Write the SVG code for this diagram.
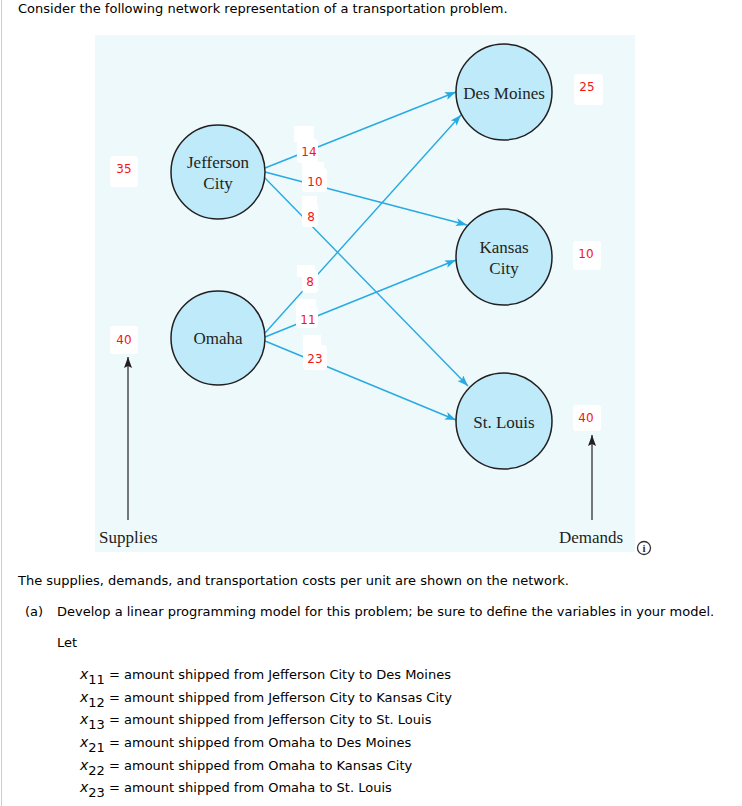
<svg xmlns="http://www.w3.org/2000/svg" width="742" height="806" viewBox="0 0 742 806">
<style>
.page{font-family:"DejaVu Sans",Verdana,sans-serif;font-size:13px;fill:#000}
.node{fill:#bfeaf9;stroke:#231f20;stroke-width:1.5}
.ntext{font-family:"Liberation Serif","Times New Roman",serif;font-size:17px;fill:#231f20;text-anchor:middle}
.edge{stroke:#27aae1;stroke-width:1.4;fill:none}
.lbox{fill:#fff}
.lab{font-family:"DejaVu Sans",Verdana,sans-serif;font-size:12px;fill:#f51414;text-anchor:middle}
.axis{stroke:#231f20;stroke-width:1.2}
.cap{font-family:"Liberation Serif","Times New Roman",serif;font-size:17px;fill:#231f20}
.var{font-family:"DejaVu Sans",Verdana,sans-serif;font-style:italic;font-size:14px}
</style>
<defs>
<marker id="ah" markerUnits="userSpaceOnUse" markerWidth="12" markerHeight="10" refX="11" refY="4" orient="auto">
<path d="M0,0 L11,4 L0,8 L2.5,4 Z" fill="#27aae1"/>
</marker>
<marker id="bh" markerUnits="userSpaceOnUse" markerWidth="12" markerHeight="10" refX="11" refY="4" orient="auto">
<path d="M0,0 L11,4 L0,8 L2,4 Z" fill="#231f20"/>
</marker>
</defs>
<rect width="742" height="806" fill="#fff"/>
<line x1="1.5" y1="0" x2="1.5" y2="806" stroke="#cccccc" stroke-width="1"/>
<text class="page" x="18" y="13">Consider the following network representation of a transportation problem.</text>
<rect x="95" y="35" width="540" height="517" fill="#eef9fc"/>

<g id="connectors">
<line class="edge" x1="265" y1="168" x2="456" y2="92" marker-end="url(#ah)"/>
<line class="edge" x1="265" y1="172" x2="467" y2="225" marker-end="url(#ah)"/>
<line class="edge" x1="264" y1="177" x2="468" y2="386" marker-end="url(#ah)"/>
<line class="edge" x1="265" y1="333" x2="461" y2="115" marker-end="url(#ah)"/>
<line class="edge" x1="265" y1="337" x2="456" y2="260" marker-end="url(#ah)"/>
<line class="edge" x1="265" y1="341" x2="456" y2="420" marker-end="url(#ah)"/>
<line class="axis" x1="128" y1="520" x2="128" y2="357" marker-end="url(#bh)"/>
<line class="axis" x1="592" y1="520" x2="592" y2="435" marker-end="url(#bh)"/>
</g>

<g id="cost-labels">
<g id="c14"><rect class="lbox" x="294" y="126" width="20" height="16"/><rect class="lbox" x="297" y="139" width="21" height="24" rx="4"/><text class="lab" x="309" y="156">14</text></g>
<g id="c10"><rect class="lbox" x="302" y="162" width="22" height="12"/><rect class="lbox" x="302" y="168" width="25" height="24" rx="4"/><text class="lab" x="315" y="186">10</text></g>
<g id="c8a"><rect class="lbox" x="302" y="196" width="15" height="14"/><rect class="lbox" x="302" y="204" width="16" height="23" rx="4"/><text class="lab" x="311" y="221">8</text></g>
<g id="c8b"><rect class="lbox" x="297" y="265" width="18" height="12"/><rect class="lbox" x="302" y="270" width="16" height="23" rx="4"/><text class="lab" x="310" y="286">8</text></g>
<g id="c11"><rect class="lbox" x="296" y="299" width="20" height="12"/><rect class="lbox" x="296" y="306" width="22" height="22" rx="4"/><text class="lab" x="308" y="324">11</text></g>
<g id="c23"><rect class="lbox" x="303" y="335" width="18" height="14"/><rect class="lbox" x="303" y="345" width="24" height="25" rx="4"/><text class="lab" x="315" y="363">23</text></g>
<g id="s35"><rect class="lbox" x="110" y="156" width="28" height="31" rx="3"/><text class="lab" x="124" y="173">35</text></g>
<g id="s40"><rect class="lbox" x="110" y="326" width="28" height="28" rx="3"/><text class="lab" x="124" y="344">40</text></g>
<g id="d25"><rect class="lbox" x="574" y="74" width="29" height="31" rx="3"/><text class="lab" x="587" y="91">25</text></g>
<g id="d10"><rect class="lbox" x="573" y="241" width="28" height="29" rx="3"/><text class="lab" x="586" y="258">10</text></g>
<g id="d40"><rect class="lbox" x="573" y="405" width="28" height="26" rx="3"/><text class="lab" x="586" y="422">40</text></g>
</g>

<g id="jefferson"><circle class="node" cx="218" cy="172" r="47"/><text class="ntext" x="218" y="168">Jefferson</text><text class="ntext" x="218" y="189">City</text></g>
<g id="omaha"><circle class="node" cx="218" cy="338" r="47"/><text class="ntext" x="218" y="344">Omaha</text></g>
<g id="desmoines"><circle class="node" cx="504" cy="92" r="48"/><text class="ntext" x="504" y="99">Des Moines</text></g>
<g id="kansas"><circle class="node" cx="504" cy="257" r="48"/><text class="ntext" x="504" y="253">Kansas</text><text class="ntext" x="504" y="274">City</text></g>
<g id="stlouis"><circle class="node" cx="504" cy="421" r="48"/><text class="ntext" x="504" y="428">St. Louis</text></g>

<text class="cap" x="99" y="543">Supplies</text>
<text class="cap" x="559" y="543">Demands</text>
<g id="info"><circle cx="644" cy="548" r="6.5" fill="none" stroke="#333" stroke-width="1.3"/><text x="644" y="552" font-family="Liberation Serif,serif" font-size="11" font-weight="bold" text-anchor="middle" fill="#333">i</text></g>

<text class="page" x="18" y="585">The supplies, demands, and transportation costs per unit are shown on the network.</text>
<text class="page" x="25" y="616">(a)</text>
<text class="page" x="57" y="616">Develop a linear programming model for this problem; be sure to define the variables in your model.</text>
<text class="page" x="57" y="647">Let</text>
<g class="page">
<text x="80" y="679"><tspan class="var">x</tspan><tspan dy="5">11</tspan><tspan dy="-5"> = amount shipped from Jefferson City to Des Moines</tspan></text>
<text x="80" y="702"><tspan class="var">x</tspan><tspan dy="5">12</tspan><tspan dy="-5"> = amount shipped from Jefferson City to Kansas City</tspan></text>
<text x="80" y="724"><tspan class="var">x</tspan><tspan dy="5">13</tspan><tspan dy="-5"> = amount shipped from Jefferson City to St. Louis</tspan></text>
<text x="80" y="747"><tspan class="var">x</tspan><tspan dy="5">21</tspan><tspan dy="-5"> = amount shipped from Omaha to Des Moines</tspan></text>
<text x="80" y="770"><tspan class="var">x</tspan><tspan dy="5">22</tspan><tspan dy="-5"> = amount shipped from Omaha to Kansas City</tspan></text>
<text x="80" y="792"><tspan class="var">x</tspan><tspan dy="5">23</tspan><tspan dy="-5"> = amount shipped from Omaha to St. Louis</tspan></text>
</g>
</svg>
